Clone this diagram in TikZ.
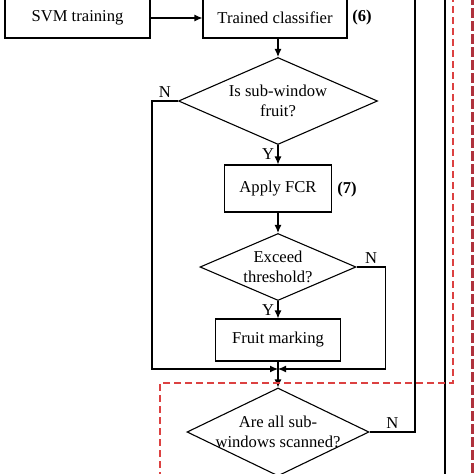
\documentclass[tikz,border=0pt]{standalone}
\usepackage{fontspec}
\setmainfont{Liberation Serif}
\usetikzlibrary{shapes.geometric,arrows.meta}
\definecolor{dashred}{RGB}{220,65,65}
\definecolor{darkred}{RGB}{175,50,60}

\begin{document}
\begin{tikzpicture}[x=1pt,y=-1pt,
  every node/.style={font=\fontsize{16.6}{20}\selectfont},
  box/.style={draw,line width=1.1pt,inner sep=0pt},
  decision/.style={draw,diamond,line width=1.1pt,inner sep=0pt},
  flow/.style={line width=1.1pt,-{Latex[length=8pt,width=7pt]}},
  link/.style={line width=1.1pt}]
  \useasboundingbox (0,0) rectangle (474,474);
  \node[box,minimum width=145,minimum height=40] (svm) at (77.5,18) {SVM training};
  \node[box,minimum width=144,minimum height=40] (clf) at (275,18) {Trained classifier};
  \node[font=\fontsize{16.6}{20}\selectfont\bfseries] (n6) at (362,18) {(6)};
  \node[decision,minimum width=199,minimum height=87] (fruit) at (278,101) {};
  \node[align=center] (fruittext) at (fruit) {Is sub-window\\fruit?};
  \node[box,minimum width=107,minimum height=47] (fcr) at (278,188.5) {Apply FCR};
  \node[font=\fontsize{16.6}{20}\selectfont\bfseries] (n7) at (347,190) {(7)};
  \node[decision,minimum width=156,minimum height=67] (thr) at (278,267) {};
  \node[align=center] (thrtext) at (thr) {Exceed\\threshold?};
  \node[box,minimum width=125,minimum height=42] (mark) at (278,340) {Fruit marking};
  \node[decision,minimum width=182,minimum height=88] (scan) at (278,432) {};
  \node[align=center] (scantext) at (scan) {Are all sub-\\windows scanned?};
  \coordinate (merge) at (278,369);
  \coordinate (looptop) at (415,-5);

  \draw[flow] (svm) -- (clf);
  \draw[flow] (clf.south -| fruit.north) -- (fruit.north);
  \draw[flow] (fruit) -- node[left,pos=0.45] (yfruit) {Y} (fcr);
  \draw[flow] (fcr) -- (thr);
  \draw[flow] (thr) -- node[left] (ythr) {Y} (mark);
  \draw[link] (mark) -- (merge);
  \draw[flow] (fruit.west) -- node[above] (nfruit) {N} ++(-26,0) |- (merge);
  \draw[flow] (thr.east) -- node[above] (nthr) {N} ++(29,0) |- (merge);
  \draw[flow] (merge) -- (scan);
  \draw[link] (scan.east) -- node[above] (nscan) {N} (scan.east -| looptop) -- (looptop);
  \draw[link] (445,-5) -- (445,480);
  \draw[dashred,line width=1.1pt,dash pattern=on 7pt off 4pt] (453,-5) -- (453,383) -- (160,383) -- (160,480);
  \draw[darkred,line width=3pt,dash pattern=on 10pt off 3pt] (472.5,-5) -- (472.5,480);
\end{tikzpicture}
\end{document}
